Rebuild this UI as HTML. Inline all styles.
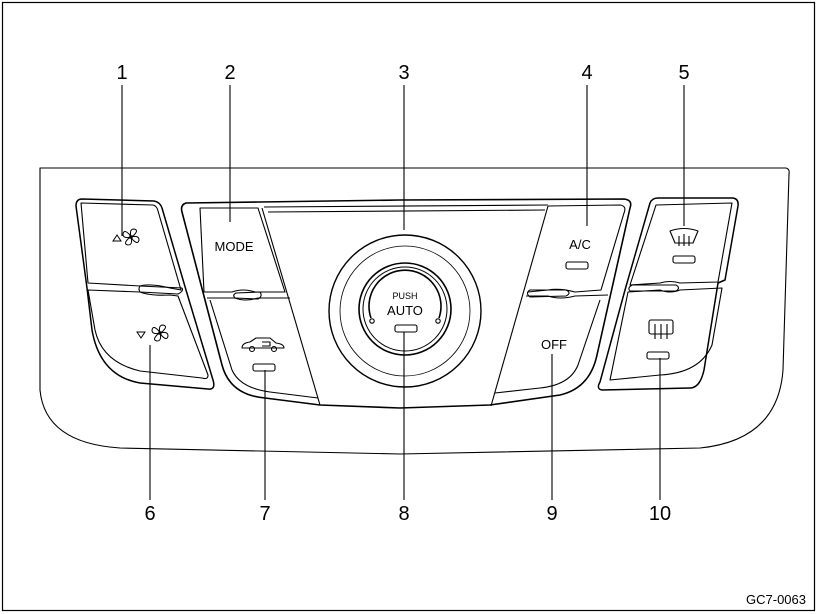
<!DOCTYPE html>
<html><head><style>
html,body{margin:0;padding:0;background:#fff;}
svg{display:block;}
text{font-family:"Liberation Sans",Arial,sans-serif;}
</style></head><body>
<svg width="818" height="614" viewBox="0 0 818 614" xmlns="http://www.w3.org/2000/svg">
<defs>
<g id="fan" fill="none" stroke="#000" stroke-width="1">
<path d="M0,0 Q-2,-8 3,-8 Q8,-7 3,-2 Z"/>
<path d="M0,0 Q8,-2 8,3 Q7,8 2,3 Z"/>
<path d="M0,0 Q2,8 -3,8 Q-8,7 -3,2 Z"/>
<path d="M0,0 Q-8,2 -8,-3 Q-7,-8 -2,-3 Z"/>
<circle cx="0" cy="0" r="1.2"/>
</g>
</defs>
<rect x="2.5" y="2.5" width="812" height="608" fill="#fff" stroke="#000" stroke-width="1.2"/>
<g fill="none" stroke="#000" stroke-width="1.1" stroke-linejoin="round">
<path d="M40,168 L786,168 Q790,169 789,174 L783,370 Q778,440 700,448 L400,454 L120,448 Q45,443 40,390 Z"/>
<!-- left buttons -->
<path d="M76,206 Q76,199 82,199 L154,201 Q160,202 162,208 L186,290 L213,380 Q216,390 208,389 L140,383 Q100,376 92,330 L87,288 Z" stroke-width="1.5"/>
<path d="M81,203 L153,205 Q157,206 158,211 L181,290 L170,288 Q150,283 140,286 L88,283 Z"/>
<path d="M88,290 L140,292 Q150,296 170,295 L178,296 L208,375 Q208,380 202,378 L140,371 Q102,362 95,330 Z"/>
<path d="M140,286 Q138,289 140,292 L178,294 Q184,291 182,288 Z"/>
<!-- central group outer -->
<path d="M186,203 Q180,205 182,212 L205,300 L222,365 Q230,395 265,398 L320,405 L400,408 L490,405 L560,395 Q590,388 597,355 L630,208 Q633,200 624,199 L400,200 L260,202 Z" stroke-width="1.6"/>
<path d="M200,208 L258,208 L285,292 L255,292 Q243,288 232,292 L204,292 Z"/>
<path d="M264,207 L548,205"/>
<path d="M548,206 L491,406"/>
<path d="M268,212 L545,210"/>
<path d="M262,208 L320,405"/>
<path d="M548,206 L620,205 Q627,206 624,213 L601,290 L575,292 Q560,288 548,290 L528,292"/>
<path d="M207,298 L235,298 Q245,302 258,298 L290,298"/>
<path d="M526,296 L548,296 Q560,300 575,296 L608,295"/>
<path d="M236,293 Q232,295 235,298 L258,299 Q263,296 260,292 Z"/>
<path d="M530,290 Q525,293 530,297 L566,296 Q572,293 566,290 Z"/>
<path d="M210,300 L232,370 Q240,388 270,392 L318,398"/>
<path d="M600,300 L578,365 Q570,385 540,388 L495,393"/>
<!-- right buttons -->
<path d="M650,203 Q652,198 658,198 L733,198 Q739,199 738,206 L725,280 L718,283 L704,370 Q700,388 690,388 L602,390 Q596,389 600,382 L625,290 Z" stroke-width="1.5"/>
<path d="M656,205 L732,203 L718,282 L680,283 Q670,280 660,283 L630,285 Z"/>
<path d="M628,292 L660,290 Q670,294 680,290 L722,288 L712,345 Q700,373 660,375 L610,380 Z"/>
<path d="M632,285 Q627,288 630,291 L676,291 Q681,288 676,285 Z"/>
<!-- dial -->
<circle cx="405" cy="311" r="76" stroke-width="1.4"/>
<circle cx="405" cy="311" r="65" stroke-width="0.8"/>
<circle cx="405" cy="309" r="46" stroke-width="1.6"/>
<circle cx="405" cy="309" r="42" stroke-width="1"/>
<path d="M371,318 A36,36 0 1 1 439,318" stroke-width="1.6"/>
<circle cx="372" cy="321" r="2.2"/><circle cx="438" cy="321" r="2.2"/>
<rect x="395" y="325" width="22" height="7" rx="2"/>
<rect x="566" y="262" width="22" height="7" rx="2"/>
<rect x="253" y="364" width="22" height="7" rx="2"/>
<rect x="673" y="256" width="22" height="7" rx="2"/>
<rect x="647" y="352" width="22" height="7" rx="2"/>
<!-- recirc car icon -->
<path d="M242,348 Q242,343 250,342 L256,338 L270,338 L276,343 Q284,344 284,348 Z"/>
<path d="M262,342 L270,342 L270,346 L262,346"/>
<circle cx="252" cy="349" r="2.5"/><circle cx="274" cy="349" r="2.5"/>
<!-- front defrost -->
<path d="M670,231 Q684,226 698,231 L693,243 L675,243 Z"/>
<path d="M679,246 L679,236 M684,246 L684,234 M689,246 L689,236"/>
<!-- rear defrost -->
<rect x="649" y="320" width="24" height="14" rx="2"/>
<path d="M655,339 L655,324 M661,339 L661,324 M667,339 L667,324"/>
<!-- leader lines -->
<path d="M122,85 L122,236 M230,85 L230,222 M404,85 L404,230 M587,85 L587,226 M684,85 L684,226"/>
<path d="M150,345 L150,500 M265,370 L265,500 M404,332 L404,500 M552,354 L552,500 M660,358 L660,500"/>
</g>
<g fill="none" stroke="#000" stroke-width="1">
<path d="M113,241 L117,235 L121,241 Z"/>
<path d="M137,332 L141,338 L145,332 Z"/>
</g>
<use href="#fan" x="131" y="237"/>
<use href="#fan" x="160" y="333"/>
<g font-size="20" text-anchor="middle" fill="#000">
<text x="122" y="79">1</text><text x="230" y="79">2</text><text x="404" y="79">3</text><text x="587" y="79">4</text><text x="684" y="79">5</text>
<text x="150" y="520">6</text><text x="265" y="520">7</text><text x="404" y="520">8</text><text x="552" y="520">9</text><text x="660" y="520">10</text>
</g>
<g text-anchor="middle" fill="#000">
<text x="234" y="251" font-size="13">MODE</text>
<text x="580" y="249" font-size="13">A/C</text>
<text x="554" y="349" font-size="13">OFF</text>
<text x="405" y="299" font-size="9">PUSH</text>
<text x="405" y="315" font-size="13">AUTO</text>
</g>
<text x="806" y="604" font-size="13" text-anchor="end">GC7-0063</text>
</svg>
</body></html>
